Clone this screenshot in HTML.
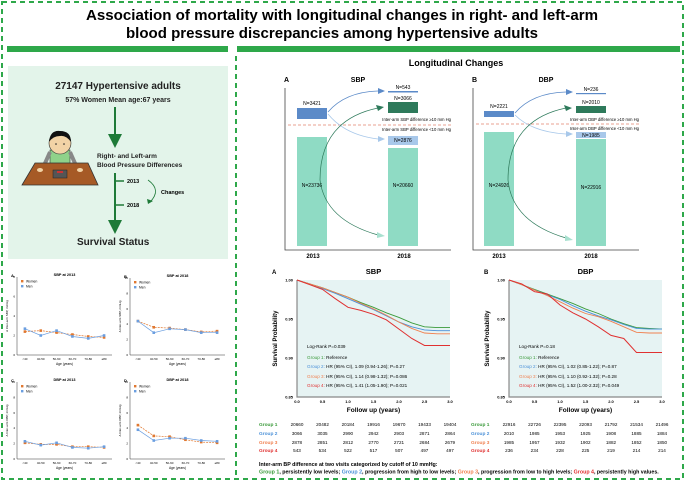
<!DOCTYPE html>
<html><head><meta charset="utf-8"><style>
html,body{margin:0;padding:0;background:#fff}
svg{display:block;font-family:"Liberation Sans",Arial,sans-serif}
</style></head><body>
<svg id="root" width="685" height="481" viewBox="0 0 685 481" xmlns="http://www.w3.org/2000/svg">
<!-- borders -->
<rect x="2" y="2" width="681" height="477" fill="none" stroke="#2ea84a" stroke-width="2" stroke-dasharray="5,4"/>
<line x1="236" y1="56" x2="236" y2="479" stroke="#2ea84a" stroke-width="2" stroke-dasharray="5,4"/>
<text x="342" y="20" text-anchor="middle" font-size="15" font-weight="bold" textLength="512" lengthAdjust="spacingAndGlyphs">Association of mortality with longitudinal changes in right- and left-arm</text>
<text x="332" y="38" text-anchor="middle" font-size="15" font-weight="bold" textLength="412" lengthAdjust="spacingAndGlyphs">blood pressure discrepancies among hypertensive adults</text>
<rect x="7" y="46" width="221" height="6" fill="#2ea84a"/>
<rect x="237" y="46" width="443" height="6" fill="#2ea84a"/>

<!-- left study box -->
<g>
<rect x="8" y="66" width="220" height="193" fill="#e3f4ea"/>
<text x="118" y="89" text-anchor="middle" font-size="10" font-weight="bold" fill="#222">27147 Hypertensive adults</text>
<text x="118" y="102" text-anchor="middle" font-size="7" font-weight="bold" fill="#222">57% Women    Mean age:67 years</text>
<line x1="115" y1="107" x2="115" y2="140" stroke="#1e7a38" stroke-width="2"/>
<polygon points="108,134 122,134 115,148" fill="#1e7a38"/>
<text x="97" y="158" font-size="6.5" font-weight="bold" fill="#222">Right- and Left-arm</text>
<text x="97" y="167" font-size="6.5" font-weight="bold" fill="#222">Blood Pressure Differences</text>
<line x1="115" y1="173" x2="115" y2="226" stroke="#1e7a38" stroke-width="2"/>
<line x1="115" y1="181" x2="124" y2="181" stroke="#1e7a38" stroke-width="1.5"/>
<line x1="115" y1="205" x2="124" y2="205" stroke="#1e7a38" stroke-width="1.5"/>
<text x="127" y="183" font-size="5.5" font-weight="bold">2013</text>
<text x="127" y="207" font-size="5.5" font-weight="bold">2018</text>
<path d="M148,180 Q162,190 150,202" fill="none" stroke="#1e7a38" stroke-width="0.8"/>
<polygon points="147,199 153,201 148,204" fill="#1e7a38"/>
<text x="161" y="194" font-size="5.5" font-weight="bold">Changes</text>
<polygon points="108,220 122,220 115,234" fill="#1e7a38"/>
<text x="77" y="245" font-size="10" font-weight="bold" fill="#222">Survival Status</text>
<!-- person -->
<g>
<rect x="50" y="150" width="20" height="17" fill="#8fd28a" stroke="#333" stroke-width="0.6"/>
<path d="M50,152 L42,170 L38,176" stroke="#888" stroke-width="4" fill="none"/>
<path d="M70,152 L78,170 L82,176" stroke="#888" stroke-width="4" fill="none"/>
<polygon points="22,185 35,163 88,163 98,185" fill="#a65a26" stroke="#333" stroke-width="0.8"/>
<rect x="53" y="170" width="14" height="8" fill="#555" stroke="#222" stroke-width="0.5"/>
<rect x="57" y="171" width="6" height="2" fill="#c33"/>
<ellipse cx="40" cy="170" rx="3" ry="2" fill="#f2d3a6"/>
<ellipse cx="80" cy="170" rx="3" ry="2" fill="#f2d3a6"/>
<circle cx="60" cy="143" r="11" fill="#f2d3a6" stroke="#333" stroke-width="0.6"/>
<path d="M49,142 Q50,130 60,131 Q71,131 71,142 Q66,135 60,136 Q53,136 49,142Z" fill="#111"/>
<circle cx="56" cy="144" r="0.8" fill="#222"/><circle cx="64" cy="144" r="0.8" fill="#222"/>
</g>
</g>

<!-- longitudinal changes -->
<text x="456" y="66" text-anchor="middle" font-size="9" font-weight="bold">Longitudinal Changes</text>
<g id="longA">
<text x="284" y="82" font-size="7" font-weight="bold">A</text>
<text x="358" y="82" text-anchor="middle" font-size="7" font-weight="bold">SBP</text>
<path d="M285,88 V250 H451" fill="none" stroke="#444" stroke-width="0.8"/>
<text x="313" y="258" text-anchor="middle" font-size="6" font-weight="bold">2013</text>
<text x="404" y="258" text-anchor="middle" font-size="6" font-weight="bold">2018</text>
<rect x="297" y="108" width="30" height="11" fill="#5b8ac8"/>
<text x="312" y="105" text-anchor="middle" font-size="5">N=3421</text>
<rect x="297" y="137" width="30" height="109" fill="#8fdbc4"/>
<text x="312" y="187" text-anchor="middle" font-size="5">N=23736</text>
<rect x="388" y="91" width="30" height="1.5" fill="#5b8ac8"/>
<text x="403" y="89" text-anchor="middle" font-size="5">N=543</text>
<rect x="388" y="102" width="30" height="11" fill="#2e7a5b"/>
<text x="403" y="100" text-anchor="middle" font-size="5">N=3066</text>
<rect x="388" y="136" width="30" height="9" fill="#a8c8ea"/>
<text x="403" y="142" text-anchor="middle" font-size="5">N=2876</text>
<rect x="388" y="148" width="30" height="98" fill="#8fdbc4"/>
<text x="403" y="187" text-anchor="middle" font-size="5">N=20660</text>
<line x1="288" y1="125" x2="451" y2="125" stroke="#e8a090" stroke-width="1" stroke-dasharray="3,2"/>
<text x="451" y="121" text-anchor="end" font-size="4.2">Inter-arm SBP difference ≥10 mm Hg</text>
<text x="451" y="131" text-anchor="end" font-size="4.2">Inter-arm SBP difference &lt;10 mm Hg</text>
<path d="M328,112 Q345,92 378,91" fill="none" stroke="#5b8ac8" stroke-width="0.8"/><polygon points="378,88 385,91 378,94" fill="#5b8ac8"/>
<path d="M328,114 Q345,135 378,139" fill="none" stroke="#a8c8ea" stroke-width="0.8"/><polygon points="378,136 385,139 378,142" fill="#a8c8ea"/>
<path d="M378,108 Q320,120 320,180 Q325,220 378,235" fill="none" stroke="#2e7a5b" stroke-width="0.7"/><polygon points="376,105 384,107 378,111" fill="#2e7a5b"/><polygon points="377,232 385,236 377,238" fill="#a8e0cf"/>
</g>
<g id="longB">
<text x="472" y="82" font-size="7" font-weight="bold">B</text>
<text x="546" y="82" text-anchor="middle" font-size="7" font-weight="bold">DBP</text>
<path d="M473,88 V250 H639" fill="none" stroke="#444" stroke-width="0.8"/>
<text x="499" y="258" text-anchor="middle" font-size="6" font-weight="bold">2013</text>
<text x="591" y="258" text-anchor="middle" font-size="6" font-weight="bold">2018</text>
<rect x="484" y="111" width="30" height="6" fill="#5b8ac8"/>
<text x="499" y="108" text-anchor="middle" font-size="5">N=2221</text>
<rect x="484" y="132" width="30" height="114" fill="#8fdbc4"/>
<text x="499" y="187" text-anchor="middle" font-size="5">N=24926</text>
<rect x="576" y="93" width="30" height="1.2" fill="#5b8ac8"/>
<text x="591" y="91" text-anchor="middle" font-size="5">N=236</text>
<rect x="576" y="106" width="30" height="7" fill="#2e7a5b"/>
<text x="591" y="104" text-anchor="middle" font-size="5">N=2010</text>
<rect x="576" y="132" width="30" height="6" fill="#a8c8ea"/>
<text x="591" y="137" text-anchor="middle" font-size="5">N=1985</text>
<rect x="576" y="139" width="30" height="107" fill="#8fdbc4"/>
<text x="591" y="189" text-anchor="middle" font-size="5">N=22916</text>
<line x1="476" y1="124" x2="639" y2="124" stroke="#e8a090" stroke-width="1" stroke-dasharray="3,2"/>
<text x="639" y="121" text-anchor="end" font-size="4.2">Inter-arm DBP difference ≥10 mm Hg</text>
<text x="639" y="130" text-anchor="end" font-size="4.2">Inter-arm DBP difference &lt;10 mm Hg</text>
<path d="M515,113 Q532,93 566,92" fill="none" stroke="#5b8ac8" stroke-width="0.8"/><polygon points="566,89 573,92 566,95" fill="#5b8ac8"/>
<path d="M515,115 Q532,132 566,134" fill="none" stroke="#a8c8ea" stroke-width="0.8"/><polygon points="566,131 573,134 566,137" fill="#a8c8ea"/>
<path d="M566,108 Q508,120 508,180 Q512,222 566,238" fill="none" stroke="#2e7a5b" stroke-width="0.7"/><polygon points="564,105 572,108 566,111" fill="#2e7a5b"/><polygon points="565,235 573,240 565,241" fill="#a8e0cf"/>
</g>

<g id="km"></g>
<g id="small"></g>

<text x="259" y="466" font-size="5.3" font-weight="bold">Inter-arm BP difference at two visits categorized by cutoff of 10 mmHg:</text>
<text x="259" y="473.5" font-size="5.3" font-weight="bold"><tspan fill="#3a9a3a">Group 1</tspan>, persistently low levels; <tspan fill="#4a90d8">Group 2</tspan>, progression from high to low levels; <tspan fill="#f08050">Group 3</tspan>, progression from low to high levels; <tspan fill="#e03030">Group 4</tspan>, persistently high values.</text>
</svg>
<script>
const NS="http://www.w3.org/2000/svg";
function mk(p,t,a,txt){const e=document.createElementNS(NS,t);for(const k in a)e.setAttribute(k,a[k]);if(txt!==undefined)e.textContent=txt;p.appendChild(e);return e;}

// ---- KM data ----
const kmTimes=[0,0.25,0.5,0.75,1,1.25,1.5,1.75,2,2.25,2.5,2.75,3];
const sbpG1=[1,0.995,0.990,0.984,0.978,0.971,0.965,0.958,0.952,0.945,0.940,0.939,0.939];
const sbpG2=[1,0.995,0.989,0.983,0.976,0.969,0.962,0.954,0.946,0.940,0.936,0.935,0.935];
const sbpG3=[1,0.995,0.990,0.984,0.978,0.970,0.963,0.955,0.946,0.938,0.932,0.931,0.931];
const sbpG4=[1,0.994,0.988,0.976,0.965,0.961,0.956,0.949,0.937,0.925,0.916,0.916,0.916];
const dbpG1=[1,0.994,0.988,0.982,0.976,0.970,0.963,0.957,0.950,0.944,0.939,0.938,0.937];
const dbpG2=[1,0.994,0.987,0.981,0.975,0.967,0.960,0.954,0.949,0.943,0.938,0.937,0.937];
const dbpG3=[1,0.994,0.987,0.980,0.972,0.964,0.957,0.953,0.947,0.940,0.933,0.932,0.932];
const dbpG4=[1,0.995,0.985,0.982,0.968,0.958,0.950,0.940,0.929,0.925,0.907,0.907,0.907];
const kmYTicks=[0.85,0.90,0.95,1.00];
const kmXTicks=[0,0.5,1,1.5,2,2.5,3];
const sbpRisk=[[20660,20482,20184,19916,19670,19433,19404],[3066,3035,2990,2942,2903,2871,2864],[2878,2851,2812,2770,2721,2684,2679],[543,534,522,517,507,497,497]];
const dbpRisk=[[22916,22726,22395,22093,21792,21534,21496],[2010,1985,1953,1925,1908,1885,1884],[1985,1957,1932,1902,1882,1852,1850],[236,234,228,225,219,214,214]];
const sbpText=["Log-Rank P=0.039","Reference","HR (95% CI), 1.09 (0.94-1.26); P=0.27","HR (95% CI), 1.14 (0.98-1.32); P=0.086","HR (95% CI), 1.41 (1.05-1.90); P=0.021"];
const dbpText=["Log-Rank P=0.18","Reference","HR (95% CI), 1.02 (0.85-1.22); P=0.87","HR (95% CI), 1.10 (0.92-1.32); P=0.28","HR (95% CI), 1.52 (1.00-2.32); P=0.049"];
const gcol=["#3a9a3a","#4a90d8","#f08050","#e03030"];

function km(x0,x1,y0,y1,letter,title,series,risk,txt,lx,name){
  const root=document.getElementById('km');
  const g=mk(root,'g',{});
  
  
  const X=t=>x0+(x1-x0)*t/3, Y=v=>y1-(y1-y0)*(v-0.85)/0.15;
  mk(g,'rect',{x:x0,y:y0,width:x1-x0,height:y1-y0,fill:'#e6f3f3'});
  mk(g,'text',{x:x0-25,y:y0-6,'font-size':6,'font-weight':'bold'},letter);
  mk(g,'text',{x:(x0+x1)/2,y:y0-6,'text-anchor':'middle','font-size':7.5,'font-weight':'bold'},title);
  mk(g,'path',{d:`M${x0},${y0} V${y1} H${x1}`,stroke:'#888','stroke-width':1.2,fill:'none'});
  kmYTicks.forEach(v=>{const t=mk(g,'text',{x:x0-4,y:Y(v)+1.5,'text-anchor':'end','font-size':4,'font-weight':'bold'},v.toFixed(2));});
  kmXTicks.forEach(v=>{const t=mk(g,'text',{x:X(v),y:y1+6,'text-anchor':'middle','font-size':4,'font-weight':'bold'},v.toFixed(1));});
  const yt=mk(g,'text',{x:x0-20,y:(y0+y1)/2,'text-anchor':'middle','font-size':6,'font-weight':'bold',transform:`rotate(-90 ${x0-20} ${(y0+y1)/2})`},'Survival Probability');
  
  const xt=mk(g,'text',{x:(x0+x1)/2,y:y1+15,'text-anchor':'middle','font-size':6.5,'font-weight':'bold'},'Follow up (years)');
  
  series.forEach((s,i)=>{
    const d=s.map((v,k)=>(k?'L':'M')+X(kmTimes[k]).toFixed(1)+','+Y(v).toFixed(1)).join(' ');
    const p=mk(g,'path',{d:d,fill:'none',stroke:gcol[i],'stroke-width':i==3?1:0.9});
    
    
  });
  const ty=[348,359,368,378,387];
  txt.forEach((s,i)=>{
    const t=mk(g,'text',{x:x0+10,y:ty[i],'font-size':4.6});
    if(i==0){t.textContent=s;}else{mk(t,'tspan',{fill:gcol[i-1]},'Group '+i+': ');mk(t,'tspan',{},s);}
    
    
  });
  const ry=[426,435,444,452];
  risk.forEach((row,i)=>{
    const l=mk(g,'text',{x:lx,y:ry[i],'font-size':4.8,'font-weight':'bold',fill:gcol[i]},'Group '+(i+1));
    
    
    row.forEach((n,k)=>{const t=mk(g,'text',{x:X(kmXTicks[k]),y:ry[i],'text-anchor':'middle','font-size':4.6},String(n));});
  });
}
km(297,450,280,397,'A','SBP',[sbpG1,sbpG2,sbpG3,sbpG4],sbpRisk,sbpText,259,'sbp-survival-chart');
km(509,662,280,397,'B','DBP',[dbpG1,dbpG2,dbpG3,dbpG4],dbpRisk,dbpText,471,'dbp-survival-chart');

// ---- small age charts ----
const ageCats=["<40","40-50","50-60","60-70","70-80","≥80"];
const sbp13Women=[2.4,2.5,2.3,2.1,1.9,1.8];
const sbp13Men=[2.7,2.0,2.5,1.9,1.7,2.0];
const sbp18Women=[4.4,3.6,3.5,3.3,3.0,3.1];
const sbp18Men=[4.4,2.9,3.4,3.3,2.9,2.9];
const dbp13Women=[2.1,1.9,1.9,1.6,1.6,1.5];
const dbp13Men=[2.3,1.8,2.1,1.5,1.4,1.6];
const dbp18Women=[4.4,3.0,2.9,2.5,2.2,2.1];
const dbp18Men=[3.8,2.4,2.7,2.7,2.4,2.3];
const yTicks8=[0,2,4,6,8];
const yTicks10=[0,2,4,6,8,10];

function small(x0,x1,y0,y1,ymax,ticks,letter,title,ylab,w,m,name){
  const root=document.getElementById('small');
  const g=mk(root,'g',{});
  
  
  const step=(x1-x0)/6, X=i=>x0+step*(i+0.5), Y=v=>y1-(y1-y0)*v/ymax;
  mk(g,'path',{d:`M${x0},${y0} V${y1} H${x1}`,stroke:'#333','stroke-width':0.5,fill:'none'});
  mk(g,'text',{x:x0-6,y:y0,'font-size':4,'font-weight':'bold'},letter);
  mk(g,'text',{x:(x0+x1)/2,y:y0-1,'text-anchor':'middle','font-size':3.8,'font-weight':'bold'},title);
  ticks.forEach(v=>{mk(g,'text',{x:x0-2,y:Y(v)+1,'text-anchor':'end','font-size':3},String(v));});
  ageCats.forEach((c,i)=>{mk(g,'text',{x:X(i),y:y1+5,'text-anchor':'middle','font-size':3},c);});
  mk(g,'text',{x:(x0+x1)/2,y:y1+10,'text-anchor':'middle','font-size':3.3},'Age (years)');
  mk(g,'text',{x:x0-9,y:(y0+y1)/2,'text-anchor':'middle','font-size':3,transform:`rotate(-90 ${x0-9} ${(y0+y1)/2})`},ylab);
  [[w,'#e07830','2,1'],[m,'#6a9ee0','']].forEach(([s,c,da],j)=>{
    const p=mk(g,'polyline',{points:s.map((v,i)=>X(i).toFixed(1)+','+Y(v).toFixed(1)).join(' '),fill:'none',stroke:c,'stroke-width':0.7,'stroke-dasharray':da});
    
    
    s.forEach((v,i)=>{const r=mk(g,'rect',{x:X(i)-1.3,y:Y(v)-1.3,width:2.6,height:2.6,fill:c});});
  });
  mk(g,'rect',{x:x0+4,y:y0+3,width:2.4,height:2.4,fill:'#e07830'});
  mk(g,'text',{x:x0+9,y:y0+5.3,'font-size':3.3},'Women');
  mk(g,'rect',{x:x0+4,y:y0+8,width:2.4,height:2.4,fill:'#6a9ee0'});
  mk(g,'text',{x:x0+9,y:y0+10.3,'font-size':3.3},'Men');
}
small(17,112,277,355,8,yTicks8,'A','SBP at 2013','Δ Inter-arm SBP, mmHg',sbp13Women,sbp13Men,'sbp-2013-age-chart');
small(130,225,278,355,10,yTicks10,'B','SBP at 2018','Δ Inter-arm SBP, mmHg',sbp18Women,sbp18Men,'sbp-2018-age-chart');
small(17,112,382,459,10,yTicks10,'C','DBP at 2013','Δ Inter-arm DBP, mmHg',dbp13Women,dbp13Men,'dbp-2013-age-chart');
small(130,225,382,459,10,yTicks10,'D','DBP at 2018','Δ Inter-arm DBP, mmHg',dbp18Women,dbp18Men,'dbp-2018-age-chart');
</script>
</body></html>
